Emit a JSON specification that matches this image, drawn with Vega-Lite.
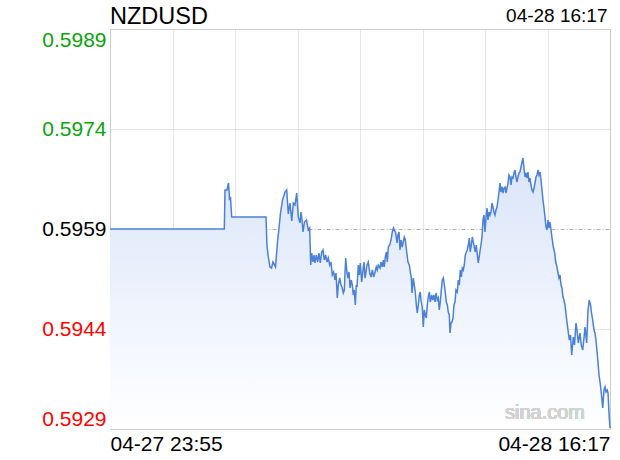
{
  "$schema": "https://vega.github.io/schema/vega-lite/v6.json",
  "width": 500,
  "height": 400,
  "autosize": "none",
  "padding": {"left": 110, "top": 29, "right": 10, "bottom": 31},
  "background": "white",
  "title": {"text": "NZDUSD", "anchor": "start", "frame": "group", "fontSize": 23.5, "fontWeight": "normal", "font": "Liberation Sans", "color": "#000", "offset": -22},
  "config": {"view": {"stroke": "#cccccc", "strokeWidth": 1}},
  "data": {"values": [
{"t":0,"p":0.5959},{"t":224.5,"p":0.5959},{"t":225.9,"p":0.596485},{"t":229.8,"p":0.596485},{"t":232.7,"p":0.59659},{"t":234.7,"p":0.59635},{"t":236.7,"p":0.596365},{"t":239.0,"p":0.59608},{"t":306.4,"p":0.59608},{"t":308.3,"p":0.595645},{"t":311.3,"p":0.595465},{"t":314.2,"p":0.59533},{"t":317.2,"p":0.595315},{"t":320.1,"p":0.595405},{"t":325.0,"p":0.59533},{"t":329.0,"p":0.595705},{"t":331.9,"p":0.595915},{"t":334.9,"p":0.59614},{"t":338.8,"p":0.596335},{"t":343.7,"p":0.596455},{"t":347.0,"p":0.596485},{"t":350.2,"p":0.596125},{"t":353.5,"p":0.59629},{"t":356.9,"p":0.59602},{"t":360.0,"p":0.59629},{"t":363.3,"p":0.59626},{"t":366.7,"p":0.59644},{"t":369.8,"p":0.59608},{"t":373.2,"p":0.59599},{"t":375.1,"p":0.596155},{"t":377.1,"p":0.596035},{"t":379.1,"p":0.595855},{"t":382.0,"p":0.596005},{"t":385.9,"p":0.596035},{"t":389.5,"p":0.595885},{"t":392.2,"p":0.595915},{"t":394.2,"p":0.59536},{"t":396.1,"p":0.59554},{"t":398.7,"p":0.595405},{"t":400.7,"p":0.59551},{"t":402.6,"p":0.59539},{"t":405.2,"p":0.59551},{"t":407.9,"p":0.595405},{"t":410.5,"p":0.59554},{"t":413.0,"p":0.59539},{"t":415.8,"p":0.595555},{"t":418.3,"p":0.595585},{"t":420.9,"p":0.595435},{"t":423.6,"p":0.59551},{"t":426.2,"p":0.595405},{"t":428.7,"p":0.595465},{"t":431.5,"p":0.59536},{"t":434.0,"p":0.595405},{"t":436.6,"p":0.59521},{"t":439.3,"p":0.595255},{"t":441.9,"p":0.595135},{"t":443.9,"p":0.59524},{"t":446.4,"p":0.594865},{"t":448.4,"p":0.59506},{"t":451.1,"p":0.595165},{"t":453.7,"p":0.59506},{"t":455.6,"p":0.59503},{"t":458.2,"p":0.59494},{"t":460.2,"p":0.594985},{"t":462.9,"p":0.595465},{"t":465.5,"p":0.59524},{"t":467.4,"p":0.595165},{"t":469.4,"p":0.595255},{"t":471.4,"p":0.595015},{"t":473.9,"p":0.595135},{"t":475.9,"p":0.59506},{"t":477.8,"p":0.59491},{"t":479.8,"p":0.594985},{"t":481.8,"p":0.59476},{"t":483.7,"p":0.59506},{"t":485.1,"p":0.59503},{"t":487.7,"p":0.59536},{"t":489.6,"p":0.59521},{"t":491.6,"p":0.59539},{"t":494.3,"p":0.595105},{"t":496.9,"p":0.595285},{"t":498.9,"p":0.595405},{"t":500.8,"p":0.595165},{"t":502.8,"p":0.595255},{"t":504.7,"p":0.59536},{"t":507.3,"p":0.595405},{"t":510.1,"p":0.59524},{"t":512.6,"p":0.59518},{"t":515.2,"p":0.595285},{"t":517.9,"p":0.59518},{"t":520.5,"p":0.595255},{"t":523.0,"p":0.59533},{"t":525.0,"p":0.595285},{"t":526.9,"p":0.59536},{"t":530.3,"p":0.595315},{"t":532.2,"p":0.595405},{"t":534.8,"p":0.59533},{"t":536.8,"p":0.595435},{"t":538.7,"p":0.59533},{"t":540.7,"p":0.59548},{"t":542.7,"p":0.595555},{"t":544.6,"p":0.595405},{"t":546.6,"p":0.59563},{"t":549.3,"p":0.59566},{"t":551.9,"p":0.595735},{"t":554.4,"p":0.595855},{"t":556.8,"p":0.595915},{"t":561.1,"p":0.59584},{"t":563.7,"p":0.59569},{"t":565.6,"p":0.59581},{"t":567.6,"p":0.595855},{"t":569.6,"p":0.595585},{"t":571.5,"p":0.595735},{"t":574.1,"p":0.59563},{"t":576.0,"p":0.595705},{"t":578.0,"p":0.59578},{"t":580.0,"p":0.595735},{"t":582.7,"p":0.595555},{"t":585.3,"p":0.595405},{"t":587.8,"p":0.59536},{"t":589.8,"p":0.595255},{"t":591.8,"p":0.595165},{"t":593.1,"p":0.59494},{"t":595.7,"p":0.595165},{"t":597.6,"p":0.59506},{"t":599.6,"p":0.594955},{"t":601.6,"p":0.59476},{"t":603.5,"p":0.59464},{"t":605.5,"p":0.59476},{"t":607.5,"p":0.59491},{"t":609.4,"p":0.594955},{"t":610.8,"p":0.594835},{"t":613.4,"p":0.594715},{"t":615.3,"p":0.59443},{"t":617.3,"p":0.594685},{"t":619.3,"p":0.59461},{"t":621.2,"p":0.594565},{"t":623.2,"p":0.59476},{"t":625.1,"p":0.59488},{"t":627.1,"p":0.594955},{"t":629.1,"p":0.594805},{"t":631.8,"p":0.59491},{"t":633.8,"p":0.594835},{"t":636.3,"p":0.59491},{"t":638.3,"p":0.594805},{"t":640.3,"p":0.59494},{"t":642.8,"p":0.594835},{"t":644.8,"p":0.594865},{"t":646.7,"p":0.594685},{"t":648.7,"p":0.594805},{"t":650.7,"p":0.594985},{"t":652.6,"p":0.595135},{"t":654.6,"p":0.595165},{"t":656.6,"p":0.59506},{"t":658.5,"p":0.594955},{"t":660.5,"p":0.594805},{"t":662.5,"p":0.59476},{"t":664.4,"p":0.594655},{"t":666.4,"p":0.59461},{"t":667.8,"p":0.59434},{"t":669.7,"p":0.59449},{"t":671.7,"p":0.594505},{"t":673.7,"p":0.594565},{"t":675.6,"p":0.59476},{"t":677.6,"p":0.594805},{"t":679.5,"p":0.594985},{"t":682.1,"p":0.594955},{"t":684.1,"p":0.595135},{"t":686.0,"p":0.59506},{"t":688.0,"p":0.595285},{"t":690.0,"p":0.59518},{"t":691.9,"p":0.595315},{"t":693.9,"p":0.595285},{"t":695.8,"p":0.59536},{"t":697.8,"p":0.59551},{"t":699.8,"p":0.595555},{"t":701.7,"p":0.595585},{"t":703.7,"p":0.59566},{"t":705.7,"p":0.595765},{"t":707.6,"p":0.595555},{"t":709.6,"p":0.59566},{"t":711.6,"p":0.59578},{"t":713.5,"p":0.595705},{"t":715.5,"p":0.59563},{"t":717.5,"p":0.595555},{"t":719.4,"p":0.59566},{"t":721.4,"p":0.59551},{"t":723.3,"p":0.59539},{"t":726.1,"p":0.59554},{"t":728.6,"p":0.59566},{"t":730.6,"p":0.59578},{"t":732.6,"p":0.596035},{"t":734.5,"p":0.59611},{"t":736.5,"p":0.595855},{"t":738.5,"p":0.596065},{"t":740.4,"p":0.596215},{"t":742.4,"p":0.596035},{"t":744.4,"p":0.596155},{"t":746.3,"p":0.59611},{"t":748.3,"p":0.596155},{"t":750.2,"p":0.59629},{"t":752.2,"p":0.59623},{"t":754.2,"p":0.596155},{"t":756.1,"p":0.59611},{"t":758.1,"p":0.596185},{"t":760.1,"p":0.59623},{"t":762.0,"p":0.596335},{"t":764.0,"p":0.596455},{"t":766.0,"p":0.59659},{"t":767.9,"p":0.596455},{"t":769.9,"p":0.59653},{"t":771.9,"p":0.59644},{"t":773.8,"p":0.596515},{"t":775.8,"p":0.59653},{"t":777.7,"p":0.59644},{"t":779.7,"p":0.596515},{"t":781.7,"p":0.59659},{"t":783.6,"p":0.59671},{"t":785.6,"p":0.59668},{"t":787.6,"p":0.59656},{"t":789.5,"p":0.59668},{"t":791.5,"p":0.596665},{"t":793.5,"p":0.59674},{"t":795.4,"p":0.596785},{"t":797.4,"p":0.59668},{"t":799.3,"p":0.596605},{"t":801.3,"p":0.59668},{"t":803.3,"p":0.59674},{"t":805.2,"p":0.596755},{"t":807.2,"p":0.59683},{"t":809.2,"p":0.596905},{"t":811.1,"p":0.596965},{"t":813.1,"p":0.596815},{"t":815.1,"p":0.59668},{"t":817.0,"p":0.59674},{"t":819.0,"p":0.596665},{"t":820.9,"p":0.596755},{"t":822.9,"p":0.596605},{"t":824.9,"p":0.596665},{"t":826.8,"p":0.59656},{"t":828.8,"p":0.596485},{"t":830.8,"p":0.596455},{"t":832.7,"p":0.596515},{"t":834.7,"p":0.59659},{"t":836.7,"p":0.59668},{"t":838.6,"p":0.59671},{"t":840.6,"p":0.596785},{"t":842.6,"p":0.59671},{"t":844.5,"p":0.596755},{"t":846.5,"p":0.596635},{"t":848.4,"p":0.596485},{"t":850.4,"p":0.596335},{"t":852.4,"p":0.596215},{"t":854.3,"p":0.59608},{"t":856.3,"p":0.59593},{"t":858.3,"p":0.595885},{"t":860.2,"p":0.596035},{"t":862.2,"p":0.595915},{"t":864.2,"p":0.596005},{"t":866.1,"p":0.595885},{"t":868.7,"p":0.595735},{"t":870.6,"p":0.59563},{"t":873.4,"p":0.59554},{"t":875.4,"p":0.595405},{"t":877.9,"p":0.59533},{"t":879.9,"p":0.59524},{"t":881.8,"p":0.595165},{"t":883.8,"p":0.59521},{"t":885.8,"p":0.59506},{"t":887.7,"p":0.595015},{"t":889.7,"p":0.59488},{"t":891.7,"p":0.594835},{"t":893.6,"p":0.59476},{"t":897.0,"p":0.594535},{"t":899.5,"p":0.594385},{"t":902.1,"p":0.594235},{"t":904.4,"p":0.59431},{"t":906.8,"p":0.59401},{"t":909.9,"p":0.59428},{"t":912.3,"p":0.59416},{"t":915.2,"p":0.59449},{"t":917.2,"p":0.594385},{"t":919.7,"p":0.59419},{"t":923.1,"p":0.59434},{"t":925.6,"p":0.59416},{"t":928.4,"p":0.594085},{"t":930.9,"p":0.594265},{"t":932.9,"p":0.59443},{"t":936.2,"p":0.59419},{"t":938.8,"p":0.594685},{"t":941.3,"p":0.594835},{"t":943.7,"p":0.59476},{"t":945.7,"p":0.59464},{"t":948.0,"p":0.594535},{"t":950.6,"p":0.594385},{"t":952.5,"p":0.59434},{"t":954.5,"p":0.594235},{"t":955.9,"p":0.594115},{"t":958.4,"p":0.593905},{"t":960.4,"p":0.59371},{"t":962.4,"p":0.593605},{"t":964.3,"p":0.593485},{"t":967.7,"p":0.593215},{"t":970.2,"p":0.593485},{"t":972.2,"p":0.59353},{"t":974.1,"p":0.593455},{"t":976.7,"p":0.593485},{"t":978.1,"p":0.59344},{"t":980.0,"p":0.59314},{"t":982.0,"p":0.592915}
  ]},
  "layer": [
    {
      "mark": {"type": "area", "color": {"gradient": "linear", "x1": 0, "y1": 0, "x2": 0, "y2": 1, "stops": [{"offset": 0, "color": "#dae5f9"}, {"offset": 1, "color": "#ffffff"}]}},
      "encoding": {
        "x": {"field": "t", "type": "quantitative", "scale": {"domain": [0, 982], "nice": false, "zero": false},
          "axis": {"orient": "bottom", "title": null, "values": [0, 122.75, 245.5, 368.25, 491, 613.75, 736.5, 859.25, 982],
            "labelExpr": "datum.value == 0 ? '04-27 23:55' : (datum.value == 982 ? '04-28 16:17' : '')",
            "labelFlush": true, "labelOverlap": false, "ticks": false, "domain": false, "labelFontSize": 21, "labelFont": "Liberation Sans", "labelColor": "#000", "labelPadding": 4,
            "grid": true, "gridColor": "#cccccc", "gridDash": [1, 1]}},
        "y": {"field": "p", "type": "quantitative", "scale": {"domain": [0.5929, 0.5989], "nice": false, "zero": false},
          "axis": {"title": null, "values": [0.5929, 0.5944, 0.5959, 0.5974, 0.5989], "format": ".4f", "labelFlush": true, "labelOverlap": false,
            "ticks": false, "domain": false, "labelFontSize": 21, "labelFont": "Liberation Sans", "labelPadding": 4,
            "labelColor": {"condition": [{"test": "datum.value > 0.59595", "value": "#0aa50a"}, {"test": "datum.value < 0.59585", "value": "#ff0000"}], "value": "#000000"},
            "grid": true,
            "gridColor": {"condition": {"test": "abs(datum.value - 0.5959) < 0.00001", "value": "#b0b0b0"}, "value": "#cccccc"},
            "gridDash": {"condition": {"test": "abs(datum.value - 0.5959) < 0.00001", "value": [4, 2, 1, 2]}, "value": [1, 1]}}},
        "y2": {"datum": 0.5929}
      }
    },
    {
      "mark": {"type": "line", "color": "#4a80d8", "strokeWidth": 1.5},
      "encoding": {
        "x": {"field": "t", "type": "quantitative",
          "axis": {"orient": "top", "title": null, "values": [982], "labelExpr": "'04-28 16:17'", "labelFlush": true, "labelOverlap": false,
            "ticks": false, "domain": false, "grid": false, "labelFontSize": 19, "labelFont": "Liberation Sans", "labelColor": "#000", "labelPadding": 4, "labelOffset": -3}},
        "y": {"field": "p", "type": "quantitative", "axis": null}
      }
    },
    {
      "mark": {"type": "text", "text": "sina.com", "align": "right", "baseline": "alphabetic", "fontSize": 20, "font": "Liberation Sans", "color": "#d2d2d2"},
      "encoding": {
        "x": {"datum": 932.9, "type": "quantitative", "axis": null},
        "y": {"datum": 0.59305, "type": "quantitative", "axis": null}
      }
    }
  ],
  "resolve": {"axis": {"x": "independent", "y": "independent"}}
}
